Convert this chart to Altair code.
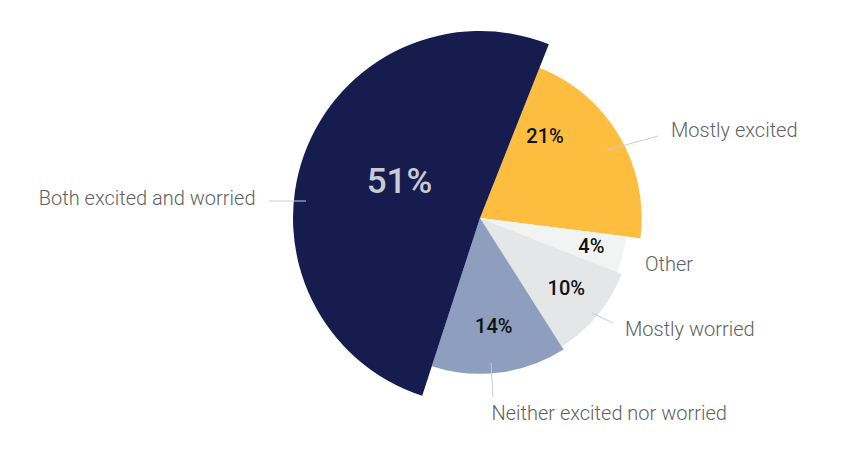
import math
import altair as alt
import pandas as pd

# ---- data ----
categories = [
    "Mostly excited",
    "Other",
    "Mostly worried",
    "Neither excited nor worried",
    "Both excited and worried",
]
values = [21, 4, 10, 14, 51]
pct_labels = ["21%", "4%", "10%", "14%", "51%"]

# ---- styles ----
slice_colors = ["#fdbe3f", "#f2f4f3", "#e5e6e8", "#8e9ebe", "#171c4f"]
pct_sizes = [20, 20, 20, 20, 35]

# ---- layout ----
W, H = 708, 420
START_DEG = 21.6
# inner percentage labels: radius and angular nudge from slice mid-angle
inner_r = [104, 115, 112, 110, 88]
inner_shift = [-20.7, 0, 0, 0, 4]
# outer annotation layout, offsets from pie centre (x right, y up)
conn_start = [(127, 68), None, (112, -95), (11, -145), (-174, 17)]
conn_end = [(178, 82), None, (133, -105), (13, -179), (-211, 17)]
text_anchor = [(191, 81), (165, -53), (145, -118), (11.5, -202), (-224.5, 13)]
text_align = ["left", "left", "left", "left", "right"]

df = pd.DataFrame({
    "category": categories,
    "value": values,
    "order": list(range(len(values))),
    "pct": pct_labels,
    "pct_size": pct_sizes,
})
total = sum(values)
cum = df["value"].cumsum() - df["value"]
df["mid_deg"] = START_DEG + (cum + df["value"] / 2) / total * 360
lab_ang = [math.radians(a + s) for a, s in zip(df["mid_deg"], inner_shift)]
df["lx"] = [r * math.sin(a) for r, a in zip(inner_r, lab_ang)]
df["ly"] = [r * math.cos(a) for r, a in zip(inner_r, lab_ang)]

conn = pd.DataFrame([
    {"x": s[0], "y": s[1], "x2": e[0], "y2": e[1]}
    for s, e in zip(conn_start, conn_end) if s is not None
])
ann = pd.DataFrame({
    "category": categories,
    "tx": [t[0] for t in text_anchor],
    "ty": [t[1] for t in text_anchor],
    "align": text_align,
})

start = math.radians(START_DEG)
xs = alt.Scale(domain=[-W / 2, W / 2], nice=False, zero=False)
ys = alt.Scale(domain=[-H / 2, H / 2], nice=False, zero=False)

pie = alt.Chart(df).mark_arc(strokeWidth=0).encode(
    theta=alt.Theta("value:Q", stack=True,
                    scale=alt.Scale(range=[start, start + 2 * math.pi])),
    radius=alt.Radius("value:Q",
                      scale=alt.Scale(type="linear", zero=False,
                                      domain=[0, 51], range=[144, 187])),
    radius2=alt.value(0),
    color=alt.Color("category:N", legend=None,
                    scale=alt.Scale(domain=categories, range=slice_colors)),
    order=alt.Order("order:Q"),
)

rules = alt.Chart(conn).mark_rule(color="#c6cbd8", strokeWidth=1).encode(
    x=alt.X("x:Q", scale=xs, axis=None),
    y=alt.Y("y:Q", scale=ys, axis=None),
    x2="x2:Q",
    y2="y2:Q",
)

pct_small = alt.Chart(df[df["pct_size"] == 20]).mark_text(
    font="Roboto", fontWeight=500, fontSize=20, baseline="middle", align="center",
    color="#111111",
).encode(
    x=alt.X("lx:Q", scale=xs, axis=None),
    y=alt.Y("ly:Q", scale=ys, axis=None),
    text="pct:N",
)
pct_big = alt.Chart(df[df["pct_size"] == 35]).mark_text(
    font="Roboto", fontWeight=500, fontSize=35, baseline="middle", align="center",
    color="#c9cad2",
).encode(
    x=alt.X("lx:Q", scale=xs, axis=None),
    y=alt.Y("ly:Q", scale=ys, axis=None),
    text="pct:N",
)

ann_left = alt.Chart(ann[ann["align"] == "left"]).mark_text(
    font="Roboto", fontWeight=300, fontSize=20, align="left",
    baseline="alphabetic", color="#5f5f5f",
).encode(
    x=alt.X("tx:Q", scale=xs, axis=None),
    y=alt.Y("ty:Q", scale=ys, axis=None),
    text="category:N",
)
ann_right = alt.Chart(ann[ann["align"] == "right"]).mark_text(
    font="Roboto", fontWeight=300, fontSize=20, align="right",
    baseline="alphabetic", color="#5f5f5f",
).encode(
    x=alt.X("tx:Q", scale=xs, axis=None),
    y=alt.Y("ty:Q", scale=ys, axis=None),
    text="category:N",
)

chart = alt.layer(pie, rules, pct_small, pct_big, ann_left, ann_right).properties(
    width=W,
    height=H,
    padding={"left": 118, "top": 0, "right": 0, "bottom": 0},
    autosize="none",
).configure_view(stroke=None).resolve_scale(x="shared", y="shared")

chart.save("out.html", embed_options={"renderer": "svg", "actions": False})
